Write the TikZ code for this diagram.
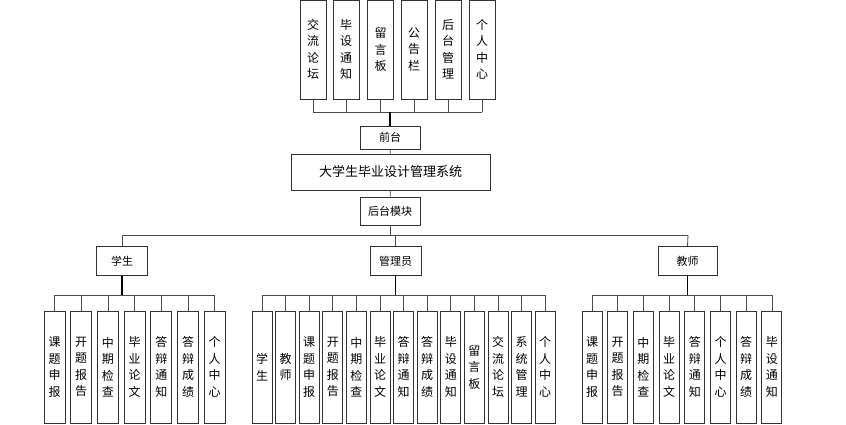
\documentclass[tikz,border=0pt]{standalone}
\usepackage{fontspec}
\setmainfont{Noto Sans CJK SC}
\begin{document}
\begin{tikzpicture}[x=1pt,y=-1pt,
  box/.style={draw=black!80,line width=0.9pt,fill=white,inner sep=0pt,font=\fontsize{12}{16.5}\selectfont,align=center},
  ln/.style={draw=black!70,line width=0.8pt},
  stem/.style={draw=black,line width=1.4pt}]
\useasboundingbox (0,0) rectangle (846,425);
% top
\foreach \i/\x/\t in {1/313/交\\流\\论\\坛,2/346/毕\\设\\通\\知,3/380.5/留\\言\\板,4/414/公\\告\\栏,5/448/后\\台\\管\\理,6/482/个\\人\\中\\心}{
  \node[box,minimum width=26,minimum height=99] (t\i) at (\x,49.5) {\t};
  \draw[ln] (t\i.south) -- (\x,112);
}
\draw[ln] (313,112) -- (482,112);
\node[box,minimum width=60,minimum height=23,font=\fontsize{11}{13}\selectfont] (front) at (390,137.5) {前台};
\node[box,minimum width=199,minimum height=36,font=\fontsize{13}{15}\selectfont] (main) at (390.5,172) {大学生毕业设计管理系统};
\node[box,minimum width=60,minimum height=28,font=\fontsize{11}{13}\selectfont] (back) at (390,211) {后台模块};
\draw[stem] (390,112) -- (front.north);
\draw[ln] (front) -- (main);
\draw[ln] (main) -- (back);
\draw[ln] (back.south) -- (390,235);
\draw[ln] (122,235) -- (688,235);
\node[box,minimum width=51,minimum height=29,font=\fontsize{11}{13}\selectfont] (stu) at (122,261) {学生};
\node[box,minimum width=51,minimum height=29,font=\fontsize{11}{13}\selectfont] (adm) at (395.5,261) {管理员};
\node[box,minimum width=59,minimum height=29,font=\fontsize{11}{13}\selectfont] (tea) at (687.5,261) {教师};
\draw[ln] (122,235) -- (stu.north);
\draw[ln] (395.5,235) -- (adm.north);
\draw[ln] (688,235) -- (tea.north);
\draw[stem] (stu.south) -- (122,295);
\draw[stem] (adm.south) -- (395.5,295);
\draw[stem] (tea.south) -- (687.5,295);
% leaves
\foreach \i/\t in {0/课\\题\\申\\报,1/开\\题\\报\\告,2/中\\期\\检\\查,3/毕\\业\\论\\文,4/答\\辩\\通\\知,5/答\\辩\\成\\绩,6/个\\人\\中\\心}{
  \pgfmathsetmacro\xx{54.5+26.7*\i}
  \node[box,minimum width=21,minimum height=112] (s\i) at (\xx,367) {\t};
  \draw[ln] (s\i.north) -- (\xx,295);
}
\draw[ln] (54.5,295) -- (214.7,295);
\foreach \i/\t in {0/学\\生,1/教\\师,2/课\\题\\申\\报,3/开\\题\\报\\告,4/中\\期\\检\\查,5/毕\\业\\论\\文,6/答\\辩\\通\\知,7/答\\辩\\成\\绩,8/毕\\设\\通\\知,9/留\\言\\板,10/交\\流\\论\\坛,11/系\\统\\管\\理,12/个\\人\\中\\心}{
  \pgfmathsetmacro\xx{262+23.6*\i}
  \node[box,minimum width=20,minimum height=112] (a\i) at (\xx,367) {\t};
  \draw[ln] (a\i.north) -- (\xx,295);
}
\draw[ln] (262,295) -- (545.2,295);
\foreach \i/\t in {0/课\\题\\申\\报,1/开\\题\\报\\告,2/中\\期\\检\\查,3/毕\\业\\论\\文,4/答\\辩\\通\\知,5/个\\人\\中\\心,6/答\\辩\\成\\绩,7/毕\\设\\通\\知}{
  \pgfmathsetmacro\xx{592+25.7*\i}
  \node[box,minimum width=20,minimum height=112] (e\i) at (\xx,367) {\t};
  \draw[ln] (e\i.north) -- (\xx,295);
}
\draw[ln] (592,295) -- (771.9,295);
\end{tikzpicture}
\end{document}
